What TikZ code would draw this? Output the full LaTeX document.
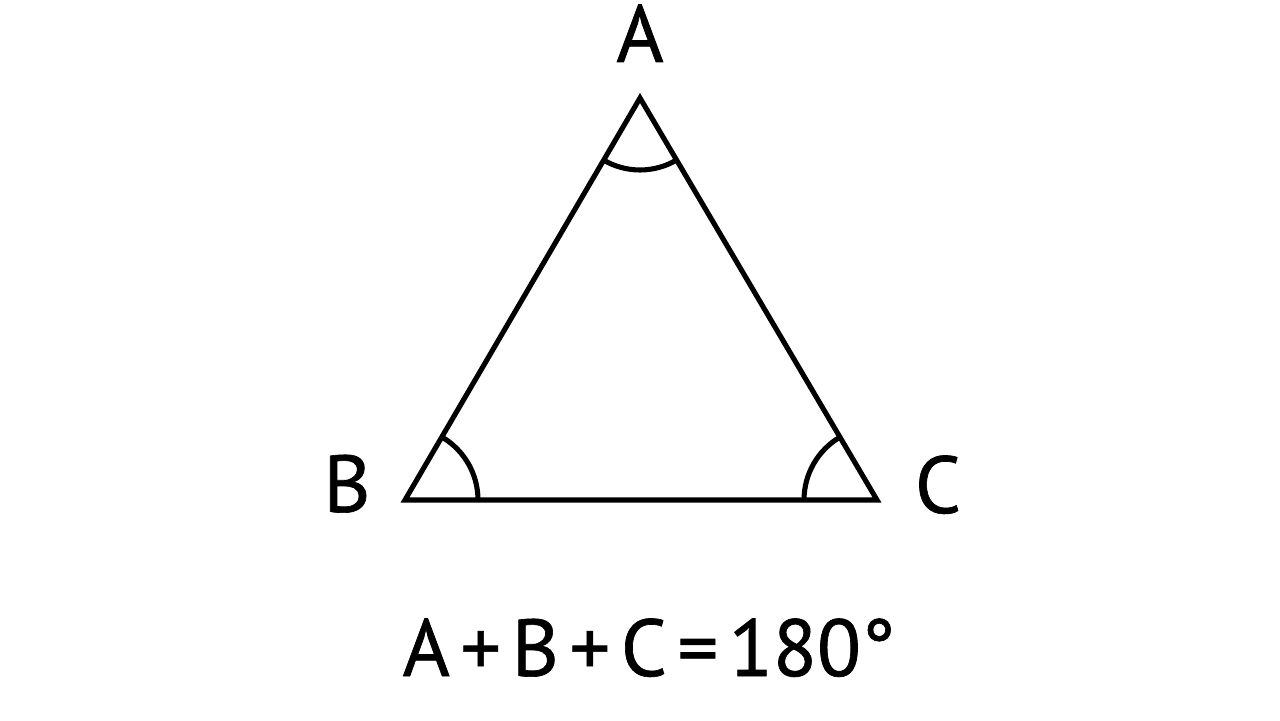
\documentclass[tikz,border=0pt]{standalone}
\usepackage{fontspec}
\newfontfamily\labelfont{PT Sans}[FakeBold=0.8]
\usepackage{tikz}
\newcommand{\gap}{\hspace{6pt}}

\begin{document}
\begin{tikzpicture}
	[x=0.02cm,y=0.02cm,line width=2.9pt,
	every node/.style={inner sep=0pt,anchor=base,font=\labelfont\fontsize{46}{55}\selectfont}]
	\useasboundingbox (0,0) rectangle (1280,720);
	\coordinate (A) at (640,622);
	\coordinate (B) at (405,220);
	\coordinate (C) at (877,220);
	\node (la) at (640,658) {A};
	\node (lb) at (347,208) {B};
	\node (lc) at (938,207) {C};
	\node (sum) at (649,44) {A\gap+\gap B\gap+\gap C\gap=\gap 180°};
	\draw (A) -- (B) -- (C) -- cycle;
	% angle marks
	\draw ([shift={(239.7:72)}]A) arc[start angle=239.7,end angle=300.5,radius=72];
	\draw ([shift={(0:73)}]B) arc[start angle=0,end angle=59.7,radius=73];
	\draw ([shift={(120.5:73)}]C) arc[start angle=120.5,end angle=180,radius=73];
\end{tikzpicture}
\end{document}
